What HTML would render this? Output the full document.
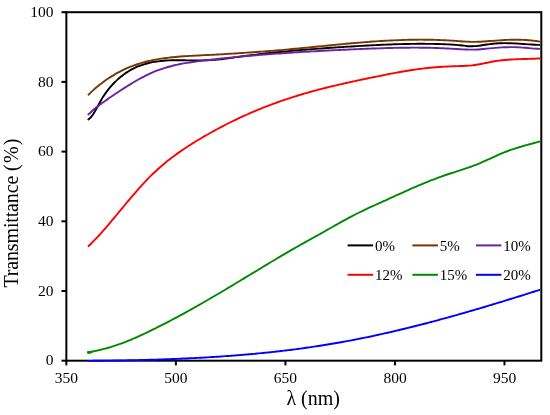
<!DOCTYPE html>
<html><head><meta charset="utf-8"><style>
html,body{margin:0;padding:0;background:#fff;width:550px;height:415px;overflow:hidden}
svg{display:block}
text{font-family:"Liberation Serif","Times New Roman",serif;fill:#000}
</style></head><body>
<svg width="550" height="415" viewBox="0 0 550 415">
<rect width="550" height="415" fill="#fff"/>
<g stroke="#000" stroke-width="2" fill="none">
<rect x="66.35" y="12.2" width="474.95" height="348.50"/>
<line x1="61.50" y1="360.70" x2="66.35" y2="360.70"/>
<line x1="61.50" y1="291.00" x2="66.35" y2="291.00"/>
<line x1="61.50" y1="221.30" x2="66.35" y2="221.30"/>
<line x1="61.50" y1="151.60" x2="66.35" y2="151.60"/>
<line x1="61.50" y1="81.90" x2="66.35" y2="81.90"/>
<line x1="61.50" y1="12.20" x2="66.35" y2="12.20"/>
<line x1="66.35" y1="360.70" x2="66.35" y2="365.40"/>
<line x1="175.88" y1="360.70" x2="175.88" y2="365.40"/>
<line x1="285.42" y1="360.70" x2="285.42" y2="365.40"/>
<line x1="394.95" y1="360.70" x2="394.95" y2="365.40"/>
<line x1="504.49" y1="360.70" x2="504.49" y2="365.40"/>
</g>
<g fill="none" stroke-width="1.9" stroke-linejoin="round" stroke-linecap="butt">
<path d="M87.80,119.92 C88.30,119.52 89.80,118.58 90.80,117.47 C91.80,116.36 92.80,114.83 93.80,113.25 C94.80,111.68 95.80,109.81 96.80,108.01 C97.80,106.22 98.80,104.26 99.80,102.48 C100.80,100.70 101.80,98.95 102.80,97.34 C103.80,95.73 104.80,94.24 105.80,92.83 C106.80,91.41 107.80,90.10 108.80,88.86 C109.80,87.61 110.80,86.45 111.80,85.34 C112.80,84.23 113.80,83.19 114.80,82.20 C115.80,81.20 116.80,80.25 117.80,79.35 C118.80,78.45 119.80,77.59 120.80,76.78 C121.80,75.96 122.80,75.19 123.80,74.46 C124.80,73.72 125.80,73.03 126.80,72.38 C127.80,71.72 128.80,71.10 129.80,70.52 C130.80,69.94 131.80,69.39 132.80,68.87 C133.80,68.36 134.80,67.88 135.80,67.42 C136.80,66.97 137.80,66.54 138.80,66.14 C139.80,65.75 140.80,65.38 141.80,65.03 C142.80,64.68 143.80,64.36 144.80,64.06 C145.80,63.76 146.80,63.49 147.80,63.23 C148.80,62.98 149.80,62.75 150.80,62.53 C151.80,62.32 152.80,62.12 153.80,61.94 C154.80,61.77 155.80,61.61 156.80,61.46 C157.80,61.32 158.80,61.19 159.80,61.08 C160.80,60.97 161.80,60.87 162.80,60.78 C163.80,60.70 164.80,60.62 165.80,60.56 C166.80,60.50 167.80,60.45 168.80,60.41 C169.80,60.37 170.80,60.34 171.80,60.31 C172.80,60.29 173.80,60.27 174.80,60.26 C175.80,60.25 176.80,60.25 177.80,60.25 C178.80,60.25 179.80,60.26 180.80,60.27 C181.80,60.28 182.80,60.29 183.80,60.30 C184.80,60.31 185.80,60.33 186.80,60.34 C187.80,60.35 188.80,60.37 189.80,60.38 C190.80,60.39 191.80,60.40 192.80,60.40 C193.80,60.41 194.80,60.41 195.80,60.41 C196.80,60.41 197.80,60.41 198.80,60.40 C199.80,60.39 200.80,60.37 201.80,60.36 C202.80,60.34 203.80,60.31 204.80,60.29 C205.80,60.26 206.80,60.22 207.80,60.18 C208.80,60.14 209.80,60.10 210.80,60.04 C211.80,59.99 212.80,59.93 213.80,59.86 C214.80,59.80 215.80,59.72 216.80,59.64 C217.80,59.56 218.80,59.47 219.80,59.37 C220.80,59.27 221.80,59.17 222.80,59.05 C223.80,58.93 224.80,58.81 225.80,58.68 C226.80,58.55 227.80,58.40 228.80,58.26 C229.80,58.12 230.80,57.97 231.80,57.82 C232.80,57.67 233.80,57.52 234.80,57.38 C235.80,57.23 236.80,57.09 237.80,56.94 C238.80,56.80 239.80,56.66 240.80,56.52 C241.80,56.38 242.80,56.24 243.80,56.11 C244.80,55.97 245.80,55.84 246.80,55.71 C247.80,55.58 248.80,55.45 249.80,55.32 C250.80,55.19 251.80,55.06 252.80,54.94 C253.80,54.81 254.80,54.69 255.80,54.57 C256.80,54.45 257.80,54.33 258.80,54.21 C259.80,54.09 260.80,53.97 261.80,53.86 C262.80,53.74 263.80,53.63 264.80,53.52 C265.80,53.40 266.80,53.29 267.80,53.18 C268.80,53.08 269.80,52.97 270.80,52.86 C271.80,52.75 272.80,52.65 273.80,52.55 C274.80,52.44 275.80,52.34 276.80,52.24 C277.80,52.14 278.80,52.04 279.80,51.94 C280.80,51.84 281.80,51.75 282.80,51.65 C283.80,51.55 284.80,51.46 285.80,51.37 C286.80,51.27 287.80,51.18 288.80,51.09 C289.80,51.00 290.80,50.91 291.80,50.82 C292.80,50.73 293.80,50.64 294.80,50.56 C295.80,50.47 296.80,50.38 297.80,50.30 C298.80,50.22 299.80,50.13 300.80,50.05 C301.80,49.97 302.80,49.88 303.80,49.80 C304.80,49.72 305.80,49.64 306.80,49.56 C307.80,49.49 308.80,49.41 309.80,49.33 C310.80,49.25 311.80,49.18 312.80,49.10 C313.80,49.02 314.80,48.95 315.80,48.88 C316.80,48.80 317.80,48.73 318.80,48.66 C319.80,48.58 320.80,48.51 321.80,48.44 C322.80,48.37 323.80,48.30 324.80,48.23 C325.80,48.16 326.80,48.09 327.80,48.02 C328.80,47.95 329.80,47.88 330.80,47.81 C331.80,47.74 332.80,47.68 333.80,47.61 C334.80,47.54 335.80,47.48 336.80,47.41 C337.80,47.34 338.80,47.28 339.80,47.21 C340.80,47.15 341.80,47.08 342.80,47.02 C343.80,46.95 344.80,46.89 345.80,46.82 C346.80,46.76 347.80,46.70 348.80,46.63 C349.80,46.57 350.80,46.51 351.80,46.45 C352.80,46.38 353.80,46.32 354.80,46.26 C355.80,46.20 356.80,46.14 357.80,46.08 C358.80,46.02 359.80,45.96 360.80,45.90 C361.80,45.84 362.80,45.78 363.80,45.73 C364.80,45.67 365.80,45.61 366.80,45.56 C367.80,45.50 368.80,45.45 369.80,45.39 C370.80,45.34 371.80,45.29 372.80,45.24 C373.80,45.18 374.80,45.13 375.80,45.08 C376.80,45.03 377.80,44.99 378.80,44.94 C379.80,44.89 380.80,44.84 381.80,44.80 C382.80,44.75 383.80,44.71 384.80,44.67 C385.80,44.63 386.80,44.58 387.80,44.54 C388.80,44.50 389.80,44.47 390.80,44.43 C391.80,44.39 392.80,44.36 393.80,44.32 C394.80,44.29 395.80,44.25 396.80,44.22 C397.80,44.19 398.80,44.16 399.80,44.13 C400.80,44.11 401.80,44.08 402.80,44.06 C403.80,44.03 404.80,44.01 405.80,43.99 C406.80,43.97 407.80,43.95 408.80,43.93 C409.80,43.91 410.80,43.90 411.80,43.88 C412.80,43.87 413.80,43.86 414.80,43.85 C415.80,43.84 416.80,43.83 417.80,43.82 C418.80,43.82 419.80,43.82 420.80,43.81 C421.80,43.81 422.80,43.81 423.80,43.82 C424.80,43.82 425.80,43.82 426.80,43.83 C427.80,43.84 428.80,43.85 429.80,43.86 C430.80,43.87 431.80,43.89 432.80,43.90 C433.80,43.92 434.80,43.94 435.80,43.96 C436.80,43.98 437.80,44.01 438.80,44.03 C439.80,44.06 440.80,44.09 441.80,44.12 C442.80,44.15 443.80,44.19 444.80,44.23 C445.80,44.27 446.80,44.31 447.80,44.35 C448.80,44.40 449.80,44.45 450.80,44.51 C451.80,44.56 452.80,44.63 453.80,44.69 C454.80,44.76 455.80,44.84 456.80,44.92 C457.80,45.00 458.80,45.09 459.80,45.19 C460.80,45.29 461.80,45.40 462.80,45.51 C463.80,45.63 464.80,45.77 465.80,45.88 C466.80,45.99 467.80,46.11 468.80,46.18 C469.80,46.24 470.80,46.27 471.80,46.26 C472.80,46.26 473.80,46.21 474.80,46.14 C475.80,46.07 476.80,45.97 477.80,45.85 C478.80,45.74 479.80,45.60 480.80,45.45 C481.80,45.31 482.80,45.15 483.80,44.99 C484.80,44.84 485.80,44.67 486.80,44.52 C487.80,44.36 488.80,44.21 489.80,44.07 C490.80,43.94 491.80,43.82 492.80,43.71 C493.80,43.61 494.80,43.52 495.80,43.45 C496.80,43.38 497.80,43.32 498.80,43.27 C499.80,43.23 500.80,43.20 501.80,43.18 C502.80,43.15 503.80,43.15 504.80,43.15 C505.80,43.15 506.80,43.16 507.80,43.18 C508.80,43.20 509.80,43.23 510.80,43.26 C511.80,43.30 512.80,43.34 513.80,43.39 C514.80,43.43 515.80,43.49 516.80,43.55 C517.80,43.60 518.80,43.67 519.80,43.73 C520.80,43.79 521.80,43.86 522.80,43.93 C523.80,44.00 524.80,44.07 525.80,44.13 C526.80,44.20 527.80,44.27 528.80,44.33 C529.80,44.40 530.80,44.46 531.80,44.52 C532.80,44.58 533.80,44.64 534.80,44.69 C535.80,44.75 536.93,44.80 537.80,44.83 C538.67,44.87 539.63,44.90 540.00,44.91" stroke="#000000"/>
<path d="M87.90,95.24 C88.40,94.76 89.90,93.29 90.90,92.35 C91.90,91.41 92.90,90.49 93.90,89.60 C94.90,88.71 95.90,87.85 96.90,87.01 C97.90,86.17 98.90,85.35 99.90,84.56 C100.90,83.77 101.90,83.00 102.90,82.25 C103.90,81.50 104.90,80.78 105.90,80.07 C106.90,79.37 107.90,78.69 108.90,78.03 C109.90,77.37 110.90,76.73 111.90,76.11 C112.90,75.49 113.90,74.89 114.90,74.31 C115.90,73.73 116.90,73.17 117.90,72.63 C118.90,72.09 119.90,71.56 120.90,71.06 C121.90,70.55 122.90,70.07 123.90,69.60 C124.90,69.13 125.90,68.68 126.90,68.24 C127.90,67.80 128.90,67.39 129.90,66.98 C130.90,66.58 131.90,66.19 132.90,65.82 C133.90,65.45 134.90,65.09 135.90,64.74 C136.90,64.40 137.90,64.07 138.90,63.76 C139.90,63.44 140.90,63.14 141.90,62.85 C142.90,62.56 143.90,62.28 144.90,62.02 C145.90,61.76 146.90,61.50 147.90,61.26 C148.90,61.02 149.90,60.79 150.90,60.57 C151.90,60.35 152.90,60.14 153.90,59.94 C154.90,59.75 155.90,59.56 156.90,59.38 C157.90,59.20 158.90,59.03 159.90,58.86 C160.90,58.70 161.90,58.55 162.90,58.40 C163.90,58.26 164.90,58.12 165.90,57.99 C166.90,57.86 167.90,57.73 168.90,57.62 C169.90,57.50 170.90,57.39 171.90,57.29 C172.90,57.18 173.90,57.08 174.90,56.99 C175.90,56.90 176.90,56.81 177.90,56.73 C178.90,56.64 179.90,56.56 180.90,56.49 C181.90,56.42 182.90,56.35 183.90,56.28 C184.90,56.21 185.90,56.15 186.90,56.09 C187.90,56.03 188.90,55.97 189.90,55.91 C190.90,55.86 191.90,55.80 192.90,55.75 C193.90,55.70 194.90,55.65 195.90,55.59 C196.90,55.54 197.90,55.50 198.90,55.45 C199.90,55.40 200.90,55.35 201.90,55.30 C202.90,55.25 203.90,55.20 204.90,55.15 C205.90,55.10 206.90,55.04 207.90,54.99 C208.90,54.94 209.90,54.89 210.90,54.84 C211.90,54.78 212.90,54.73 213.90,54.68 C214.90,54.62 215.90,54.57 216.90,54.51 C217.90,54.46 218.90,54.40 219.90,54.35 C220.90,54.29 221.90,54.23 222.90,54.18 C223.90,54.12 224.90,54.06 225.90,54.00 C226.90,53.94 227.90,53.88 228.90,53.82 C229.90,53.76 230.90,53.70 231.90,53.64 C232.90,53.58 233.90,53.52 234.90,53.46 C235.90,53.39 236.90,53.33 237.90,53.27 C238.90,53.20 239.90,53.14 240.90,53.07 C241.90,53.01 242.90,52.94 243.90,52.88 C244.90,52.81 245.90,52.74 246.90,52.67 C247.90,52.61 248.90,52.54 249.90,52.47 C250.90,52.40 251.90,52.33 252.90,52.26 C253.90,52.19 254.90,52.11 255.90,52.04 C256.90,51.97 257.90,51.90 258.90,51.82 C259.90,51.75 260.90,51.67 261.90,51.60 C262.90,51.52 263.90,51.44 264.90,51.37 C265.90,51.29 266.90,51.21 267.90,51.13 C268.90,51.05 269.90,50.97 270.90,50.89 C271.90,50.81 272.90,50.73 273.90,50.64 C274.90,50.56 275.90,50.48 276.90,50.39 C277.90,50.31 278.90,50.22 279.90,50.14 C280.90,50.05 281.90,49.96 282.90,49.88 C283.90,49.79 284.90,49.70 285.90,49.61 C286.90,49.52 287.90,49.43 288.90,49.33 C289.90,49.24 290.90,49.15 291.90,49.06 C292.90,48.96 293.90,48.87 294.90,48.78 C295.90,48.68 296.90,48.59 297.90,48.49 C298.90,48.39 299.90,48.30 300.90,48.20 C301.90,48.10 302.90,48.01 303.90,47.91 C304.90,47.81 305.90,47.71 306.90,47.61 C307.90,47.52 308.90,47.42 309.90,47.32 C310.90,47.22 311.90,47.12 312.90,47.02 C313.90,46.92 314.90,46.82 315.90,46.72 C316.90,46.62 317.90,46.52 318.90,46.42 C319.90,46.32 320.90,46.22 321.90,46.12 C322.90,46.03 323.90,45.93 324.90,45.83 C325.90,45.73 326.90,45.63 327.90,45.53 C328.90,45.43 329.90,45.33 330.90,45.24 C331.90,45.14 332.90,45.04 333.90,44.94 C334.90,44.85 335.90,44.75 336.90,44.65 C337.90,44.56 338.90,44.46 339.90,44.37 C340.90,44.27 341.90,44.18 342.90,44.08 C343.90,43.99 344.90,43.90 345.90,43.81 C346.90,43.71 347.90,43.62 348.90,43.53 C349.90,43.44 350.90,43.35 351.90,43.26 C352.90,43.17 353.90,43.09 354.90,43.00 C355.90,42.91 356.90,42.83 357.90,42.74 C358.90,42.66 359.90,42.57 360.90,42.49 C361.90,42.41 362.90,42.33 363.90,42.25 C364.90,42.17 365.90,42.09 366.90,42.01 C367.90,41.94 368.90,41.86 369.90,41.79 C370.90,41.71 371.90,41.64 372.90,41.57 C373.90,41.50 374.90,41.43 375.90,41.36 C376.90,41.29 377.90,41.22 378.90,41.16 C379.90,41.10 380.90,41.03 381.90,40.97 C382.90,40.91 383.90,40.85 384.90,40.79 C385.90,40.73 386.90,40.68 387.90,40.63 C388.90,40.57 389.90,40.52 390.90,40.47 C391.90,40.42 392.90,40.37 393.90,40.33 C394.90,40.28 395.90,40.24 396.90,40.20 C397.90,40.15 398.90,40.12 399.90,40.08 C400.90,40.04 401.90,40.01 402.90,39.98 C403.90,39.94 404.90,39.91 405.90,39.89 C406.90,39.86 407.90,39.83 408.90,39.81 C409.90,39.79 410.90,39.77 411.90,39.75 C412.90,39.73 413.90,39.72 414.90,39.71 C415.90,39.70 416.90,39.69 417.90,39.68 C418.90,39.67 419.90,39.67 420.90,39.67 C421.90,39.67 422.90,39.67 423.90,39.68 C424.90,39.68 425.90,39.69 426.90,39.70 C427.90,39.71 428.90,39.73 429.90,39.74 C430.90,39.76 431.90,39.78 432.90,39.80 C433.90,39.83 434.90,39.85 435.90,39.88 C436.90,39.92 437.90,39.95 438.90,39.99 C439.90,40.02 440.90,40.06 441.90,40.11 C442.90,40.15 443.90,40.20 444.90,40.25 C445.90,40.30 446.90,40.35 447.90,40.41 C448.90,40.47 449.90,40.53 450.90,40.59 C451.90,40.66 452.90,40.73 453.90,40.80 C454.90,40.87 455.90,40.95 456.90,41.02 C457.90,41.10 458.90,41.17 459.90,41.25 C460.90,41.32 461.90,41.39 462.90,41.46 C463.90,41.52 464.90,41.59 465.90,41.64 C466.90,41.70 467.90,41.75 468.90,41.78 C469.90,41.82 470.90,41.85 471.90,41.87 C472.90,41.89 473.90,41.89 474.90,41.88 C475.90,41.88 476.90,41.85 477.90,41.82 C478.90,41.79 479.90,41.74 480.90,41.69 C481.90,41.64 482.90,41.57 483.90,41.51 C484.90,41.44 485.90,41.37 486.90,41.30 C487.90,41.22 488.90,41.14 489.90,41.07 C490.90,40.99 491.90,40.91 492.90,40.84 C493.90,40.76 494.90,40.69 495.90,40.61 C496.90,40.54 497.90,40.47 498.90,40.41 C499.90,40.34 500.90,40.28 501.90,40.22 C502.90,40.16 503.90,40.10 504.90,40.05 C505.90,40.00 506.90,39.95 507.90,39.91 C508.90,39.87 509.90,39.84 510.90,39.81 C511.90,39.78 512.90,39.76 513.90,39.75 C514.90,39.74 515.90,39.73 516.90,39.73 C517.90,39.73 518.90,39.74 519.90,39.76 C520.90,39.78 521.90,39.81 522.90,39.85 C523.90,39.89 524.90,39.94 525.90,40.00 C526.90,40.06 527.90,40.13 528.90,40.21 C529.90,40.29 530.90,40.39 531.90,40.50 C532.90,40.60 533.90,40.72 534.90,40.85 C535.90,40.99 537.05,41.16 537.90,41.29 C538.75,41.43 539.65,41.59 540.00,41.65" stroke="#7a3500"/>
<path d="M87.80,115.00 C88.30,114.53 89.80,113.10 90.80,112.20 C91.80,111.30 92.80,110.43 93.80,109.58 C94.80,108.73 95.80,107.91 96.80,107.11 C97.80,106.31 98.80,105.53 99.80,104.77 C100.80,104.01 101.80,103.27 102.80,102.54 C103.80,101.82 104.80,101.11 105.80,100.41 C106.80,99.70 107.80,99.02 108.80,98.33 C109.80,97.65 110.80,96.98 111.80,96.30 C112.80,95.63 113.80,94.96 114.80,94.29 C115.80,93.63 116.80,92.96 117.80,92.30 C118.80,91.64 119.80,90.98 120.80,90.32 C121.80,89.67 122.80,89.02 123.80,88.37 C124.80,87.73 125.80,87.09 126.80,86.45 C127.80,85.82 128.80,85.19 129.80,84.58 C130.80,83.96 131.80,83.35 132.80,82.75 C133.80,82.15 134.80,81.55 135.80,80.97 C136.80,80.39 137.80,79.82 138.80,79.26 C139.80,78.70 140.80,78.15 141.80,77.61 C142.80,77.08 143.80,76.55 144.80,76.04 C145.80,75.54 146.80,75.04 147.80,74.56 C148.80,74.08 149.80,73.61 150.80,73.16 C151.80,72.71 152.80,72.28 153.80,71.86 C154.80,71.45 155.80,71.05 156.80,70.67 C157.80,70.28 158.80,69.91 159.80,69.56 C160.80,69.21 161.80,68.87 162.80,68.54 C163.80,68.22 164.80,67.91 165.80,67.61 C166.80,67.31 167.80,67.03 168.80,66.75 C169.80,66.48 170.80,66.22 171.80,65.97 C172.80,65.72 173.80,65.48 174.80,65.25 C175.80,65.02 176.80,64.80 177.80,64.59 C178.80,64.38 179.80,64.18 180.80,63.99 C181.80,63.79 182.80,63.61 183.80,63.43 C184.80,63.25 185.80,63.08 186.80,62.92 C187.80,62.75 188.80,62.60 189.80,62.44 C190.80,62.29 191.80,62.14 192.80,62.00 C193.80,61.86 194.80,61.72 195.80,61.58 C196.80,61.45 197.80,61.31 198.80,61.18 C199.80,61.05 200.80,60.93 201.80,60.80 C202.80,60.68 203.80,60.55 204.80,60.43 C205.80,60.31 206.80,60.19 207.80,60.07 C208.80,59.95 209.80,59.83 210.80,59.71 C211.80,59.59 212.80,59.48 213.80,59.36 C214.80,59.25 215.80,59.14 216.80,59.02 C217.80,58.91 218.80,58.80 219.80,58.69 C220.80,58.58 221.80,58.48 222.80,58.37 C223.80,58.26 224.80,58.16 225.80,58.05 C226.80,57.95 227.80,57.85 228.80,57.75 C229.80,57.64 230.80,57.54 231.80,57.45 C232.80,57.35 233.80,57.25 234.80,57.15 C235.80,57.05 236.80,56.96 237.80,56.86 C238.80,56.77 239.80,56.68 240.80,56.58 C241.80,56.49 242.80,56.40 243.80,56.31 C244.80,56.22 245.80,56.13 246.80,56.04 C247.80,55.95 248.80,55.86 249.80,55.78 C250.80,55.69 251.80,55.60 252.80,55.52 C253.80,55.43 254.80,55.35 255.80,55.27 C256.80,55.18 257.80,55.10 258.80,55.02 C259.80,54.94 260.80,54.86 261.80,54.78 C262.80,54.70 263.80,54.62 264.80,54.54 C265.80,54.47 266.80,54.39 267.80,54.31 C268.80,54.24 269.80,54.16 270.80,54.08 C271.80,54.01 272.80,53.94 273.80,53.86 C274.80,53.79 275.80,53.72 276.80,53.64 C277.80,53.57 278.80,53.50 279.80,53.43 C280.80,53.36 281.80,53.29 282.80,53.22 C283.80,53.15 284.80,53.08 285.80,53.02 C286.80,52.95 287.80,52.88 288.80,52.81 C289.80,52.75 290.80,52.68 291.80,52.62 C292.80,52.55 293.80,52.49 294.80,52.42 C295.80,52.36 296.80,52.30 297.80,52.24 C298.80,52.17 299.80,52.11 300.80,52.05 C301.80,51.99 302.80,51.93 303.80,51.87 C304.80,51.81 305.80,51.75 306.80,51.69 C307.80,51.63 308.80,51.57 309.80,51.52 C310.80,51.46 311.80,51.40 312.80,51.35 C313.80,51.29 314.80,51.23 315.80,51.18 C316.80,51.12 317.80,51.07 318.80,51.02 C319.80,50.96 320.80,50.91 321.80,50.85 C322.80,50.80 323.80,50.75 324.80,50.70 C325.80,50.65 326.80,50.59 327.80,50.54 C328.80,50.49 329.80,50.44 330.80,50.39 C331.80,50.34 332.80,50.29 333.80,50.24 C334.80,50.19 335.80,50.15 336.80,50.10 C337.80,50.05 338.80,50.00 339.80,49.96 C340.80,49.91 341.80,49.86 342.80,49.82 C343.80,49.77 344.80,49.72 345.80,49.68 C346.80,49.63 347.80,49.59 348.80,49.54 C349.80,49.50 350.80,49.45 351.80,49.41 C352.80,49.37 353.80,49.32 354.80,49.28 C355.80,49.24 356.80,49.20 357.80,49.15 C358.80,49.11 359.80,49.07 360.80,49.03 C361.80,48.99 362.80,48.95 363.80,48.90 C364.80,48.86 365.80,48.82 366.80,48.78 C367.80,48.74 368.80,48.71 369.80,48.67 C370.80,48.63 371.80,48.59 372.80,48.55 C373.80,48.52 374.80,48.48 375.80,48.45 C376.80,48.41 377.80,48.38 378.80,48.34 C379.80,48.31 380.80,48.28 381.80,48.24 C382.80,48.21 383.80,48.18 384.80,48.15 C385.80,48.12 386.80,48.09 387.80,48.06 C388.80,48.04 389.80,48.01 390.80,47.99 C391.80,47.96 392.80,47.94 393.80,47.91 C394.80,47.89 395.80,47.87 396.80,47.85 C397.80,47.83 398.80,47.81 399.80,47.79 C400.80,47.78 401.80,47.76 402.80,47.75 C403.80,47.73 404.80,47.72 405.80,47.71 C406.80,47.70 407.80,47.69 408.80,47.69 C409.80,47.68 410.80,47.67 411.80,47.67 C412.80,47.67 413.80,47.66 414.80,47.66 C415.80,47.66 416.80,47.67 417.80,47.67 C418.80,47.67 419.80,47.68 420.80,47.69 C421.80,47.70 422.80,47.71 423.80,47.72 C424.80,47.73 425.80,47.75 426.80,47.77 C427.80,47.78 428.80,47.80 429.80,47.82 C430.80,47.85 431.80,47.87 432.80,47.90 C433.80,47.92 434.80,47.95 435.80,47.98 C436.80,48.01 437.80,48.05 438.80,48.09 C439.80,48.12 440.80,48.16 441.80,48.20 C442.80,48.25 443.80,48.29 444.80,48.34 C445.80,48.38 446.80,48.44 447.80,48.49 C448.80,48.54 449.80,48.60 450.80,48.66 C451.80,48.72 452.80,48.78 453.80,48.84 C454.80,48.91 455.80,48.98 456.80,49.04 C457.80,49.11 458.80,49.17 459.80,49.23 C460.80,49.30 461.80,49.36 462.80,49.41 C463.80,49.46 464.80,49.51 465.80,49.55 C466.80,49.59 467.80,49.62 468.80,49.64 C469.80,49.66 470.80,49.67 471.80,49.66 C472.80,49.66 473.80,49.64 474.80,49.61 C475.80,49.57 476.80,49.52 477.80,49.46 C478.80,49.40 479.80,49.32 480.80,49.24 C481.80,49.16 482.80,49.06 483.80,48.97 C484.80,48.87 485.80,48.77 486.80,48.67 C487.80,48.57 488.80,48.47 489.80,48.37 C490.80,48.27 491.80,48.18 492.80,48.09 C493.80,48.00 494.80,47.91 495.80,47.83 C496.80,47.75 497.80,47.68 498.80,47.61 C499.80,47.54 500.80,47.48 501.80,47.42 C502.80,47.37 503.80,47.32 504.80,47.28 C505.80,47.24 506.80,47.21 507.80,47.19 C508.80,47.16 509.80,47.15 510.80,47.14 C511.80,47.14 512.80,47.14 513.80,47.16 C514.80,47.17 515.80,47.20 516.80,47.23 C517.80,47.27 518.80,47.32 519.80,47.38 C520.80,47.43 521.80,47.50 522.80,47.58 C523.80,47.65 524.80,47.74 525.80,47.82 C526.80,47.90 527.80,47.99 528.80,48.08 C529.80,48.17 530.80,48.26 531.80,48.34 C532.80,48.43 533.80,48.52 534.80,48.59 C535.80,48.67 536.93,48.75 537.80,48.80 C538.67,48.86 539.63,48.90 540.00,48.92" stroke="#6a22a0"/>
<path d="M88.00,246.61 C88.50,246.13 90.00,244.70 91.00,243.72 C92.00,242.73 93.00,241.72 94.00,240.69 C95.00,239.66 96.00,238.61 97.00,237.54 C98.00,236.47 99.00,235.38 100.00,234.28 C101.00,233.18 102.00,232.06 103.00,230.94 C104.00,229.81 105.00,228.66 106.00,227.51 C107.00,226.35 108.00,225.18 109.00,224.01 C110.00,222.84 111.00,221.65 112.00,220.46 C113.00,219.27 114.00,218.08 115.00,216.87 C116.00,215.67 117.00,214.47 118.00,213.26 C119.00,212.05 120.00,210.84 121.00,209.63 C122.00,208.43 123.00,207.21 124.00,206.01 C125.00,204.80 126.00,203.60 127.00,202.40 C128.00,201.20 129.00,200.00 130.00,198.81 C131.00,197.62 132.00,196.44 133.00,195.27 C134.00,194.10 135.00,192.93 136.00,191.78 C137.00,190.63 138.00,189.49 139.00,188.36 C140.00,187.23 141.00,186.12 142.00,185.02 C143.00,183.92 144.00,182.84 145.00,181.78 C146.00,180.71 147.00,179.67 148.00,178.64 C149.00,177.61 150.00,176.61 151.00,175.62 C152.00,174.64 153.00,173.67 154.00,172.73 C155.00,171.78 156.00,170.85 157.00,169.94 C158.00,169.03 159.00,168.14 160.00,167.26 C161.00,166.39 162.00,165.53 163.00,164.69 C164.00,163.85 165.00,163.02 166.00,162.21 C167.00,161.40 168.00,160.60 169.00,159.82 C170.00,159.03 171.00,158.26 172.00,157.51 C173.00,156.75 174.00,156.01 175.00,155.28 C176.00,154.54 177.00,153.82 178.00,153.12 C179.00,152.41 180.00,151.71 181.00,151.02 C182.00,150.33 183.00,149.65 184.00,148.98 C185.00,148.31 186.00,147.65 187.00,147.00 C188.00,146.35 189.00,145.70 190.00,145.07 C191.00,144.43 192.00,143.80 193.00,143.17 C194.00,142.55 195.00,141.93 196.00,141.31 C197.00,140.70 198.00,140.09 199.00,139.49 C200.00,138.89 201.00,138.29 202.00,137.70 C203.00,137.10 204.00,136.52 205.00,135.94 C206.00,135.35 207.00,134.78 208.00,134.21 C209.00,133.64 210.00,133.07 211.00,132.51 C212.00,131.95 213.00,131.40 214.00,130.85 C215.00,130.30 216.00,129.75 217.00,129.21 C218.00,128.67 219.00,128.14 220.00,127.61 C221.00,127.08 222.00,126.56 223.00,126.04 C224.00,125.52 225.00,125.00 226.00,124.49 C227.00,123.98 228.00,123.48 229.00,122.98 C230.00,122.48 231.00,121.98 232.00,121.49 C233.00,121.00 234.00,120.52 235.00,120.04 C236.00,119.56 237.00,119.08 238.00,118.61 C239.00,118.14 240.00,117.67 241.00,117.21 C242.00,116.75 243.00,116.29 244.00,115.84 C245.00,115.39 246.00,114.94 247.00,114.50 C248.00,114.05 249.00,113.62 250.00,113.18 C251.00,112.75 252.00,112.32 253.00,111.89 C254.00,111.46 255.00,111.04 256.00,110.63 C257.00,110.21 258.00,109.80 259.00,109.39 C260.00,108.98 261.00,108.58 262.00,108.18 C263.00,107.78 264.00,107.38 265.00,106.99 C266.00,106.60 267.00,106.21 268.00,105.83 C269.00,105.44 270.00,105.06 271.00,104.69 C272.00,104.31 273.00,103.94 274.00,103.58 C275.00,103.21 276.00,102.85 277.00,102.49 C278.00,102.13 279.00,101.77 280.00,101.42 C281.00,101.07 282.00,100.72 283.00,100.38 C284.00,100.03 285.00,99.69 286.00,99.36 C287.00,99.02 288.00,98.69 289.00,98.36 C290.00,98.03 291.00,97.71 292.00,97.38 C293.00,97.06 294.00,96.74 295.00,96.43 C296.00,96.12 297.00,95.80 298.00,95.50 C299.00,95.19 300.00,94.89 301.00,94.59 C302.00,94.28 303.00,93.99 304.00,93.69 C305.00,93.40 306.00,93.11 307.00,92.82 C308.00,92.54 309.00,92.25 310.00,91.97 C311.00,91.69 312.00,91.41 313.00,91.14 C314.00,90.87 315.00,90.60 316.00,90.33 C317.00,90.06 318.00,89.80 319.00,89.53 C320.00,89.27 321.00,89.01 322.00,88.75 C323.00,88.50 324.00,88.24 325.00,87.99 C326.00,87.74 327.00,87.49 328.00,87.25 C329.00,87.00 330.00,86.76 331.00,86.51 C332.00,86.27 333.00,86.03 334.00,85.80 C335.00,85.56 336.00,85.32 337.00,85.09 C338.00,84.86 339.00,84.63 340.00,84.40 C341.00,84.17 342.00,83.94 343.00,83.71 C344.00,83.49 345.00,83.26 346.00,83.04 C347.00,82.82 348.00,82.60 349.00,82.38 C350.00,82.16 351.00,81.94 352.00,81.72 C353.00,81.50 354.00,81.29 355.00,81.07 C356.00,80.86 357.00,80.64 358.00,80.43 C359.00,80.22 360.00,80.00 361.00,79.79 C362.00,79.58 363.00,79.37 364.00,79.16 C365.00,78.95 366.00,78.74 367.00,78.53 C368.00,78.33 369.00,78.12 370.00,77.91 C371.00,77.70 372.00,77.50 373.00,77.29 C374.00,77.08 375.00,76.88 376.00,76.67 C377.00,76.46 378.00,76.26 379.00,76.06 C380.00,75.85 381.00,75.65 382.00,75.45 C383.00,75.25 384.00,75.05 385.00,74.85 C386.00,74.65 387.00,74.45 388.00,74.26 C389.00,74.06 390.00,73.87 391.00,73.68 C392.00,73.49 393.00,73.30 394.00,73.11 C395.00,72.92 396.00,72.74 397.00,72.56 C398.00,72.37 399.00,72.19 400.00,72.02 C401.00,71.84 402.00,71.66 403.00,71.49 C404.00,71.32 405.00,71.15 406.00,70.99 C407.00,70.82 408.00,70.66 409.00,70.50 C410.00,70.34 411.00,70.19 412.00,70.03 C413.00,69.88 414.00,69.73 415.00,69.59 C416.00,69.45 417.00,69.31 418.00,69.17 C419.00,69.03 420.00,68.90 421.00,68.77 C422.00,68.65 423.00,68.52 424.00,68.40 C425.00,68.29 426.00,68.17 427.00,68.06 C428.00,67.95 429.00,67.85 430.00,67.75 C431.00,67.65 432.00,67.56 433.00,67.47 C434.00,67.38 435.00,67.30 436.00,67.22 C437.00,67.14 438.00,67.07 439.00,67.00 C440.00,66.94 441.00,66.87 442.00,66.82 C443.00,66.76 444.00,66.70 445.00,66.65 C446.00,66.60 447.00,66.55 448.00,66.51 C449.00,66.46 450.00,66.42 451.00,66.38 C452.00,66.34 453.00,66.30 454.00,66.26 C455.00,66.22 456.00,66.19 457.00,66.15 C458.00,66.11 459.00,66.08 460.00,66.04 C461.00,66.01 462.00,65.97 463.00,65.93 C464.00,65.89 465.00,65.85 466.00,65.80 C467.00,65.75 468.00,65.70 469.00,65.63 C470.00,65.56 471.00,65.48 472.00,65.38 C473.00,65.28 474.00,65.16 475.00,65.03 C476.00,64.89 477.00,64.73 478.00,64.56 C479.00,64.38 480.00,64.19 481.00,63.99 C482.00,63.79 483.00,63.58 484.00,63.37 C485.00,63.16 486.00,62.94 487.00,62.73 C488.00,62.52 489.00,62.31 490.00,62.11 C491.00,61.91 492.00,61.71 493.00,61.53 C494.00,61.36 495.00,61.19 496.00,61.04 C497.00,60.89 498.00,60.75 499.00,60.62 C500.00,60.49 501.00,60.37 502.00,60.26 C503.00,60.16 504.00,60.06 505.00,59.97 C506.00,59.88 507.00,59.80 508.00,59.72 C509.00,59.65 510.00,59.59 511.00,59.53 C512.00,59.47 513.00,59.41 514.00,59.36 C515.00,59.31 516.00,59.27 517.00,59.23 C518.00,59.19 519.00,59.16 520.00,59.12 C521.00,59.09 522.00,59.06 523.00,59.03 C524.00,59.00 525.00,58.98 526.00,58.95 C527.00,58.92 528.00,58.89 529.00,58.87 C530.00,58.84 531.00,58.81 532.00,58.78 C533.00,58.75 534.00,58.71 535.00,58.68 C536.00,58.64 537.08,58.60 538.00,58.56 C538.92,58.52 540.08,58.46 540.50,58.43" stroke="#ff0000"/>
<path d="M87.20,352.53 C87.70,352.44 89.20,352.16 90.20,351.97 C91.20,351.77 92.20,351.57 93.20,351.37 C94.20,351.16 95.20,350.95 96.20,350.73 C97.20,350.51 98.20,350.28 99.20,350.05 C100.20,349.81 101.20,349.57 102.20,349.32 C103.20,349.07 104.20,348.82 105.20,348.55 C106.20,348.29 107.20,348.02 108.20,347.74 C109.20,347.46 110.20,347.17 111.20,346.87 C112.20,346.57 113.20,346.26 114.20,345.94 C115.20,345.62 116.20,345.29 117.20,344.95 C118.20,344.61 119.20,344.26 120.20,343.90 C121.20,343.54 122.20,343.17 123.20,342.79 C124.20,342.41 125.20,342.02 126.20,341.62 C127.20,341.23 128.20,340.82 129.20,340.41 C130.20,339.99 131.20,339.57 132.20,339.15 C133.20,338.72 134.20,338.28 135.20,337.85 C136.20,337.41 137.20,336.96 138.20,336.51 C139.20,336.06 140.20,335.60 141.20,335.15 C142.20,334.69 143.20,334.22 144.20,333.75 C145.20,333.29 146.20,332.81 147.20,332.34 C148.20,331.86 149.20,331.38 150.20,330.90 C151.20,330.42 152.20,329.93 153.20,329.44 C154.20,328.95 155.20,328.45 156.20,327.95 C157.20,327.45 158.20,326.95 159.20,326.45 C160.20,325.94 161.20,325.43 162.20,324.92 C163.20,324.41 164.20,323.90 165.20,323.38 C166.20,322.86 167.20,322.35 168.20,321.82 C169.20,321.30 170.20,320.78 171.20,320.25 C172.20,319.72 173.20,319.19 174.20,318.66 C175.20,318.13 176.20,317.59 177.20,317.05 C178.20,316.52 179.20,315.98 180.20,315.43 C181.20,314.89 182.20,314.35 183.20,313.80 C184.20,313.25 185.20,312.70 186.20,312.15 C187.20,311.60 188.20,311.05 189.20,310.49 C190.20,309.93 191.20,309.38 192.20,308.82 C193.20,308.26 194.20,307.69 195.20,307.13 C196.20,306.57 197.20,306.00 198.20,305.43 C199.20,304.87 200.20,304.30 201.20,303.72 C202.20,303.15 203.20,302.58 204.20,302.00 C205.20,301.43 206.20,300.85 207.20,300.27 C208.20,299.70 209.20,299.12 210.20,298.53 C211.20,297.95 212.20,297.37 213.20,296.79 C214.20,296.20 215.20,295.61 216.20,295.03 C217.20,294.44 218.20,293.85 219.20,293.26 C220.20,292.67 221.20,292.08 222.20,291.48 C223.20,290.89 224.20,290.30 225.20,289.70 C226.20,289.11 227.20,288.51 228.20,287.91 C229.20,287.31 230.20,286.72 231.20,286.12 C232.20,285.52 233.20,284.92 234.20,284.31 C235.20,283.71 236.20,283.11 237.20,282.51 C238.20,281.90 239.20,281.30 240.20,280.70 C241.20,280.09 242.20,279.49 243.20,278.88 C244.20,278.28 245.20,277.67 246.20,277.06 C247.20,276.46 248.20,275.85 249.20,275.25 C250.20,274.64 251.20,274.03 252.20,273.43 C253.20,272.82 254.20,272.22 255.20,271.61 C256.20,271.00 257.20,270.40 258.20,269.79 C259.20,269.19 260.20,268.58 261.20,267.98 C262.20,267.37 263.20,266.77 264.20,266.17 C265.20,265.56 266.20,264.96 267.20,264.36 C268.20,263.76 269.20,263.16 270.20,262.56 C271.20,261.96 272.20,261.36 273.20,260.76 C274.20,260.16 275.20,259.56 276.20,258.97 C277.20,258.37 278.20,257.78 279.20,257.19 C280.20,256.59 281.20,256.00 282.20,255.41 C283.20,254.82 284.20,254.23 285.20,253.65 C286.20,253.06 287.20,252.47 288.20,251.89 C289.20,251.31 290.20,250.73 291.20,250.15 C292.20,249.57 293.20,248.99 294.20,248.42 C295.20,247.84 296.20,247.27 297.20,246.70 C298.20,246.13 299.20,245.56 300.20,244.99 C301.20,244.43 302.20,243.86 303.20,243.30 C304.20,242.74 305.20,242.18 306.20,241.63 C307.20,241.07 308.20,240.51 309.20,239.96 C310.20,239.40 311.20,238.85 312.20,238.29 C313.20,237.74 314.20,237.18 315.20,236.63 C316.20,236.08 317.20,235.52 318.20,234.97 C319.20,234.41 320.20,233.85 321.20,233.30 C322.20,232.74 323.20,232.18 324.20,231.62 C325.20,231.05 326.20,230.49 327.20,229.92 C328.20,229.36 329.20,228.79 330.20,228.22 C331.20,227.65 332.20,227.08 333.20,226.52 C334.20,225.95 335.20,225.38 336.20,224.81 C337.20,224.25 338.20,223.68 339.20,223.12 C340.20,222.56 341.20,222.00 342.20,221.45 C343.20,220.89 344.20,220.34 345.20,219.80 C346.20,219.25 347.20,218.71 348.20,218.17 C349.20,217.64 350.20,217.11 351.20,216.58 C352.20,216.06 353.20,215.54 354.20,215.03 C355.20,214.51 356.20,214.01 357.20,213.50 C358.20,213.00 359.20,212.50 360.20,212.01 C361.20,211.52 362.20,211.03 363.20,210.55 C364.20,210.07 365.20,209.59 366.20,209.12 C367.20,208.65 368.20,208.18 369.20,207.72 C370.20,207.26 371.20,206.80 372.20,206.35 C373.20,205.90 374.20,205.45 375.20,205.00 C376.20,204.55 377.20,204.10 378.20,203.65 C379.20,203.20 380.20,202.75 381.20,202.30 C382.20,201.85 383.20,201.39 384.20,200.94 C385.20,200.49 386.20,200.03 387.20,199.58 C388.20,199.12 389.20,198.67 390.20,198.21 C391.20,197.76 392.20,197.30 393.20,196.84 C394.20,196.39 395.20,195.93 396.20,195.48 C397.20,195.02 398.20,194.57 399.20,194.12 C400.20,193.66 401.20,193.21 402.20,192.76 C403.20,192.31 404.20,191.86 405.20,191.41 C406.20,190.96 407.20,190.51 408.20,190.07 C409.20,189.62 410.20,189.18 411.20,188.74 C412.20,188.30 413.20,187.86 414.20,187.42 C415.20,186.99 416.20,186.55 417.20,186.12 C418.20,185.69 419.20,185.27 420.20,184.84 C421.20,184.42 422.20,184.00 423.20,183.58 C424.20,183.17 425.20,182.75 426.20,182.35 C427.20,181.94 428.20,181.53 429.20,181.13 C430.20,180.73 431.20,180.34 432.20,179.95 C433.20,179.55 434.20,179.17 435.20,178.79 C436.20,178.41 437.20,178.03 438.20,177.66 C439.20,177.29 440.20,176.93 441.20,176.57 C442.20,176.21 443.20,175.86 444.20,175.51 C445.20,175.16 446.20,174.82 447.20,174.49 C448.20,174.15 449.20,173.82 450.20,173.50 C451.20,173.17 452.20,172.85 453.20,172.53 C454.20,172.21 455.20,171.89 456.20,171.57 C457.20,171.25 458.20,170.93 459.20,170.61 C460.20,170.28 461.20,169.96 462.20,169.64 C463.20,169.31 464.20,168.98 465.20,168.64 C466.20,168.31 467.20,167.97 468.20,167.62 C469.20,167.28 470.20,166.92 471.20,166.56 C472.20,166.20 473.20,165.83 474.20,165.45 C475.20,165.07 476.20,164.68 477.20,164.27 C478.20,163.87 479.20,163.45 480.20,163.03 C481.20,162.60 482.20,162.17 483.20,161.73 C484.20,161.29 485.20,160.84 486.20,160.38 C487.20,159.93 488.20,159.47 489.20,159.02 C490.20,158.56 491.20,158.10 492.20,157.64 C493.20,157.18 494.20,156.73 495.20,156.28 C496.20,155.83 497.20,155.38 498.20,154.94 C499.20,154.50 500.20,154.07 501.20,153.65 C502.20,153.23 503.20,152.81 504.20,152.42 C505.20,152.02 506.20,151.63 507.20,151.26 C508.20,150.88 509.20,150.52 510.20,150.17 C511.20,149.81 512.20,149.47 513.20,149.13 C514.20,148.80 515.20,148.47 516.20,148.16 C517.20,147.84 518.20,147.53 519.20,147.22 C520.20,146.92 521.20,146.62 522.20,146.33 C523.20,146.03 524.20,145.75 525.20,145.46 C526.20,145.18 527.20,144.90 528.20,144.62 C529.20,144.35 530.20,144.07 531.20,143.80 C532.20,143.53 533.20,143.26 534.20,142.99 C535.20,142.71 536.20,142.45 537.20,142.17 C538.20,141.90 539.68,141.50 540.20,141.36 C540.72,141.22 540.28,141.33 540.30,141.33" stroke="#008a00"/>
<path d="M87.50,360.87 C88.00,360.87 89.50,360.85 90.50,360.84 C91.50,360.83 92.50,360.82 93.50,360.81 C94.50,360.80 95.50,360.79 96.50,360.78 C97.50,360.77 98.50,360.76 99.50,360.75 C100.50,360.74 101.50,360.72 102.50,360.71 C103.50,360.70 104.50,360.69 105.50,360.67 C106.50,360.66 107.50,360.65 108.50,360.63 C109.50,360.62 110.50,360.61 111.50,360.59 C112.50,360.58 113.50,360.56 114.50,360.54 C115.50,360.53 116.50,360.51 117.50,360.50 C118.50,360.48 119.50,360.46 120.50,360.45 C121.50,360.43 122.50,360.41 123.50,360.39 C124.50,360.37 125.50,360.36 126.50,360.34 C127.50,360.32 128.50,360.30 129.50,360.28 C130.50,360.26 131.50,360.24 132.50,360.21 C133.50,360.19 134.50,360.17 135.50,360.15 C136.50,360.13 137.50,360.10 138.50,360.08 C139.50,360.06 140.50,360.03 141.50,360.01 C142.50,359.98 143.50,359.96 144.50,359.93 C145.50,359.90 146.50,359.88 147.50,359.85 C148.50,359.82 149.50,359.80 150.50,359.77 C151.50,359.74 152.50,359.71 153.50,359.68 C154.50,359.65 155.50,359.62 156.50,359.59 C157.50,359.56 158.50,359.53 159.50,359.49 C160.50,359.46 161.50,359.43 162.50,359.39 C163.50,359.36 164.50,359.33 165.50,359.29 C166.50,359.25 167.50,359.22 168.50,359.18 C169.50,359.15 170.50,359.11 171.50,359.07 C172.50,359.03 173.50,358.99 174.50,358.95 C175.50,358.91 176.50,358.87 177.50,358.83 C178.50,358.79 179.50,358.75 180.50,358.70 C181.50,358.66 182.50,358.62 183.50,358.57 C184.50,358.53 185.50,358.48 186.50,358.44 C187.50,358.39 188.50,358.34 189.50,358.30 C190.50,358.25 191.50,358.20 192.50,358.15 C193.50,358.10 194.50,358.05 195.50,358.00 C196.50,357.95 197.50,357.89 198.50,357.84 C199.50,357.79 200.50,357.73 201.50,357.68 C202.50,357.62 203.50,357.57 204.50,357.51 C205.50,357.45 206.50,357.39 207.50,357.34 C208.50,357.28 209.50,357.22 210.50,357.16 C211.50,357.10 212.50,357.03 213.50,356.97 C214.50,356.91 215.50,356.84 216.50,356.78 C217.50,356.71 218.50,356.65 219.50,356.58 C220.50,356.51 221.50,356.45 222.50,356.38 C223.50,356.31 224.50,356.24 225.50,356.17 C226.50,356.10 227.50,356.02 228.50,355.95 C229.50,355.88 230.50,355.80 231.50,355.73 C232.50,355.65 233.50,355.58 234.50,355.50 C235.50,355.42 236.50,355.34 237.50,355.26 C238.50,355.18 239.50,355.10 240.50,355.02 C241.50,354.94 242.50,354.85 243.50,354.77 C244.50,354.68 245.50,354.60 246.50,354.51 C247.50,354.43 248.50,354.34 249.50,354.25 C250.50,354.16 251.50,354.07 252.50,353.98 C253.50,353.89 254.50,353.79 255.50,353.70 C256.50,353.60 257.50,353.51 258.50,353.41 C259.50,353.32 260.50,353.22 261.50,353.12 C262.50,353.02 263.50,352.92 264.50,352.82 C265.50,352.72 266.50,352.61 267.50,352.51 C268.50,352.40 269.50,352.30 270.50,352.19 C271.50,352.09 272.50,351.98 273.50,351.87 C274.50,351.76 275.50,351.65 276.50,351.54 C277.50,351.42 278.50,351.31 279.50,351.19 C280.50,351.08 281.50,350.96 282.50,350.85 C283.50,350.73 284.50,350.61 285.50,350.49 C286.50,350.37 287.50,350.25 288.50,350.12 C289.50,350.00 290.50,349.87 291.50,349.75 C292.50,349.62 293.50,349.49 294.50,349.36 C295.50,349.24 296.50,349.10 297.50,348.97 C298.50,348.84 299.50,348.71 300.50,348.57 C301.50,348.44 302.50,348.30 303.50,348.16 C304.50,348.02 305.50,347.89 306.50,347.74 C307.50,347.60 308.50,347.46 309.50,347.32 C310.50,347.17 311.50,347.03 312.50,346.88 C313.50,346.73 314.50,346.58 315.50,346.43 C316.50,346.28 317.50,346.13 318.50,345.98 C319.50,345.82 320.50,345.67 321.50,345.51 C322.50,345.35 323.50,345.20 324.50,345.04 C325.50,344.88 326.50,344.71 327.50,344.55 C328.50,344.39 329.50,344.22 330.50,344.06 C331.50,343.89 332.50,343.72 333.50,343.55 C334.50,343.38 335.50,343.21 336.50,343.04 C337.50,342.86 338.50,342.69 339.50,342.51 C340.50,342.34 341.50,342.16 342.50,341.98 C343.50,341.80 344.50,341.62 345.50,341.43 C346.50,341.25 347.50,341.06 348.50,340.88 C349.50,340.69 350.50,340.50 351.50,340.31 C352.50,340.12 353.50,339.93 354.50,339.73 C355.50,339.54 356.50,339.34 357.50,339.15 C358.50,338.95 359.50,338.75 360.50,338.55 C361.50,338.35 362.50,338.15 363.50,337.94 C364.50,337.74 365.50,337.54 366.50,337.33 C367.50,337.12 368.50,336.91 369.50,336.70 C370.50,336.49 371.50,336.28 372.50,336.07 C373.50,335.86 374.50,335.64 375.50,335.43 C376.50,335.21 377.50,334.99 378.50,334.77 C379.50,334.56 380.50,334.34 381.50,334.11 C382.50,333.89 383.50,333.67 384.50,333.44 C385.50,333.22 386.50,332.99 387.50,332.76 C388.50,332.54 389.50,332.31 390.50,332.08 C391.50,331.85 392.50,331.61 393.50,331.38 C394.50,331.15 395.50,330.91 396.50,330.68 C397.50,330.44 398.50,330.20 399.50,329.96 C400.50,329.73 401.50,329.49 402.50,329.24 C403.50,329.00 404.50,328.76 405.50,328.52 C406.50,328.27 407.50,328.03 408.50,327.78 C409.50,327.53 410.50,327.29 411.50,327.04 C412.50,326.79 413.50,326.54 414.50,326.28 C415.50,326.03 416.50,325.78 417.50,325.53 C418.50,325.27 419.50,325.02 420.50,324.76 C421.50,324.50 422.50,324.25 423.50,323.99 C424.50,323.73 425.50,323.47 426.50,323.21 C427.50,322.95 428.50,322.68 429.50,322.42 C430.50,322.16 431.50,321.89 432.50,321.63 C433.50,321.36 434.50,321.09 435.50,320.82 C436.50,320.56 437.50,320.29 438.50,320.02 C439.50,319.75 440.50,319.48 441.50,319.20 C442.50,318.93 443.50,318.66 444.50,318.38 C445.50,318.11 446.50,317.84 447.50,317.56 C448.50,317.28 449.50,317.01 450.50,316.73 C451.50,316.45 452.50,316.17 453.50,315.89 C454.50,315.61 455.50,315.33 456.50,315.05 C457.50,314.76 458.50,314.48 459.50,314.20 C460.50,313.91 461.50,313.63 462.50,313.34 C463.50,313.06 464.50,312.77 465.50,312.48 C466.50,312.19 467.50,311.91 468.50,311.62 C469.50,311.33 470.50,311.04 471.50,310.75 C472.50,310.45 473.50,310.16 474.50,309.87 C475.50,309.58 476.50,309.28 477.50,308.99 C478.50,308.70 479.50,308.40 480.50,308.11 C481.50,307.81 482.50,307.51 483.50,307.22 C484.50,306.92 485.50,306.62 486.50,306.32 C487.50,306.02 488.50,305.72 489.50,305.42 C490.50,305.12 491.50,304.82 492.50,304.52 C493.50,304.22 494.50,303.92 495.50,303.61 C496.50,303.31 497.50,303.01 498.50,302.70 C499.50,302.40 500.50,302.09 501.50,301.79 C502.50,301.48 503.50,301.18 504.50,300.87 C505.50,300.56 506.50,300.26 507.50,299.95 C508.50,299.64 509.50,299.33 510.50,299.02 C511.50,298.71 512.50,298.40 513.50,298.09 C514.50,297.78 515.50,297.47 516.50,297.16 C517.50,296.85 518.50,296.54 519.50,296.23 C520.50,295.91 521.50,295.60 522.50,295.29 C523.50,294.97 524.50,294.66 525.50,294.35 C526.50,294.03 527.50,293.72 528.50,293.40 C529.50,293.09 530.50,292.77 531.50,292.46 C532.50,292.14 533.50,291.83 534.50,291.51 C535.50,291.19 536.58,290.85 537.50,290.56 C538.42,290.27 539.58,289.90 540.00,289.76" stroke="#0000ff"/>
<polyline points="87.3,351.6 88.9,353.0 93.20,351.37" stroke="#008a00"/>
</g>
<g font-size="15.5">
<text x="53.4" y="365.3" text-anchor="end">0</text>
<text x="53.4" y="295.6" text-anchor="end">20</text>
<text x="53.4" y="225.9" text-anchor="end">40</text>
<text x="53.4" y="156.2" text-anchor="end">60</text>
<text x="53.4" y="86.5" text-anchor="end">80</text>
<text x="53.4" y="16.8" text-anchor="end">100</text>
<text x="66.3" y="383.1" text-anchor="middle">350</text>
<text x="175.9" y="383.1" text-anchor="middle">500</text>
<text x="285.4" y="383.1" text-anchor="middle">650</text>
<text x="395.0" y="383.1" text-anchor="middle">800</text>
<text x="504.5" y="383.1" text-anchor="middle">950</text>
</g>
<g font-size="15">
<line x1="347.6" y1="245.4" x2="373.1" y2="245.4" stroke="#000000" stroke-width="2"/><text x="374.90000000000003" y="250.70000000000002">0%</text>
<line x1="412.4" y1="245.4" x2="437.9" y2="245.4" stroke="#7a3500" stroke-width="2"/><text x="439.7" y="250.70000000000002">5%</text>
<line x1="475.9" y1="245.4" x2="501.4" y2="245.4" stroke="#6a22a0" stroke-width="2"/><text x="503.2" y="250.70000000000002">10%</text>
<line x1="347.6" y1="274.8" x2="373.1" y2="274.8" stroke="#ff0000" stroke-width="2"/><text x="374.90000000000003" y="280.1">12%</text>
<line x1="412.4" y1="274.8" x2="437.9" y2="274.8" stroke="#008a00" stroke-width="2"/><text x="439.7" y="280.1">15%</text>
<line x1="475.9" y1="274.8" x2="501.4" y2="274.8" stroke="#0000ff" stroke-width="2"/><text x="503.2" y="280.1">20%</text>
</g>
<text x="313.2" y="404.5" font-size="20" text-anchor="middle">λ (nm)</text>
<text transform="translate(18,287.6) rotate(-90)" font-size="20"><tspan letter-spacing="-0.15">Transmittance </tspan><tspan dx="0" letter-spacing="1.25">(%)</tspan></text>
</svg>
</body></html>
